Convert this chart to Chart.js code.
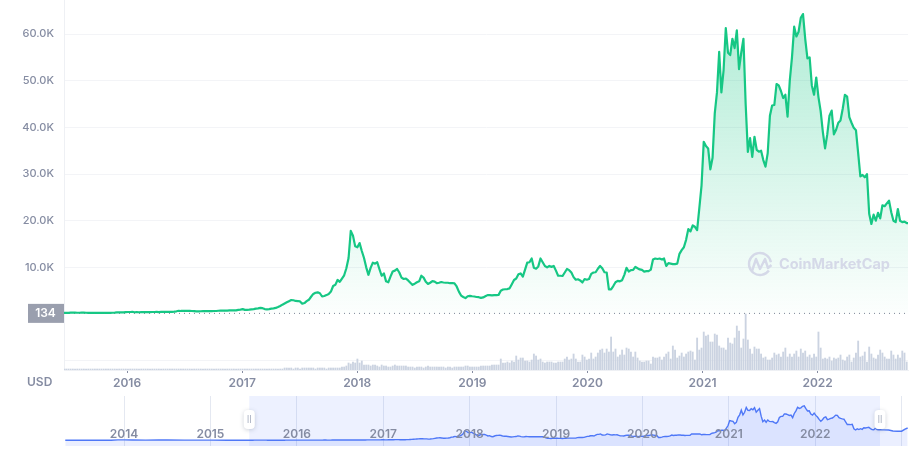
<!DOCTYPE html>
<html>
<head>
<meta charset="utf-8">
<title>Bitcoin price chart</title>
<script src="https://cdn.jsdelivr.net/npm/chart.js@4"></script>
<style>
    body { margin: 0; background: #fff; width: 915px; height: 459px; overflow: hidden; position: relative; }
    canvas { position: absolute; left: 0; }
    #priceChart { top: 0; }
    #navChart { top: 396px; }
</style>
</head>
<body>
<canvas id="priceChart" width="915" height="395"></canvas>
<canvas id="navChart" width="915" height="50"></canvas>
<script>
// Weekly closes in USD
var priceValues = [
    230,240,255,285,290,275,270,265,285,280,
    265,245,230,230,230,235,240,235,230,240,
    250,250,270,290,330,380,360,330,400,430,
    430,440,380,400,370,400,430,420,415,420,
    430,430,450,420,440,460,460,450,450,450,
    500,580,700,650,650,680,660,650,640,600,
    570,580,590,610,600,610,600,620,640,640,
    700,730,750,740,730,760,770,780,790,880,
    950,1050,880,900,920,1000,1050,1150,1200,1300,
    1250,1050,1000,1050,1150,1200,1300,1500,1720,2000,
    2250,2500,2750,2980,2950,2800,2780,2700,2200,2350,
    2750,3050,3700,4300,4550,4650,4450,3750,3850,4050,
    4300,4800,6000,6250,7300,6900,7600,8300,9800,12000,
    17800,16800,14500,14300,15200,13500,12000,10000,8400,9900,
    11000,10800,11100,9600,8200,8700,7000,6800,8000,9100,
    9300,9650,8900,7800,7500,7600,7200,6700,6250,6500,
    6800,7000,8200,7800,6900,6450,6700,7050,6950,6600,
    6700,6850,6750,6700,6700,6600,6650,6550,5900,4800,
    3950,3650,3400,3800,3900,3800,3750,3650,3600,3450,
    3550,3800,4050,4050,4000,4050,4050,4100,5000,5250,
    5300,5350,5500,6400,7300,7600,8500,8700,8000,9500,
    11000,11100,11900,9900,9700,10200,11900,11100,10300,10000,
    10300,10100,10300,9300,8200,8200,8150,8900,9650,9400,
    8900,7900,7350,7450,7200,6750,7500,7350,7500,8600,
    8900,8950,9700,10300,9800,8950,8900,5300,5300,6000,
    6800,7100,7000,7250,8400,9900,9100,9400,9450,10100,
    9800,9550,9450,9100,9200,9200,9500,11700,11900,11800,
    11900,11700,11900,10300,10900,10800,10700,10700,10800,12900,
    13700,14300,15900,18200,17700,19000,18700,18000,22700,27500,
    36900,36000,35500,31000,33500,43000,47500,56200,47500,52300,
    61300,56000,55500,59000,57000,60800,52500,56000,59000,45000,
    34750,37700,33700,38000,35200,34800,35000,33000,31600,34500,
    42500,44700,44800,49300,49000,47800,46300,47000,42300,50000,
    55000,61600,59500,60500,63500,64300,59000,54800,55000,49000,
    47000,50700,46500,43500,39000,35500,38500,42500,43600,38500,
    39500,41000,41500,44000,47000,46600,42200,41000,39900,39400,
    34500,29500,29800,29300,30000,21500,19300,21300,20000,21700,
    20500,23300,23100,23700,24300,21800,20000,19700,22500,20000,
    19700,19800,19500,19500
];

// Weekly volume in billions USD
var volumeValues = [
    6,6,6,6,6,6,6,6,6,6, 6,6,6,6,6,6,6,6,6,6,
    6,6,6,6,6,6,6,6,6,6, 6,6,6,6,6,6,6,6,6,6,
    6,6,6,6,6,6,6,6,6,6, 6,6,6,6,6,6,6,6,6,6,
    6,6,6,6,6,6,6,6,6,6, 6,6,6,6,6,6,6,6,6,6,
    6,6,6,6,6,6,6,6,6,6, 6,6,6,6,6,6,6,6,6,6,
    12,12,12,12,6,12,12,6,12,12,
    12,12,12,12,6,12,12,12,12,6,
    12,12,12,12,12,12,18,18,24,42,
    36,48,42,66,42,54,30,30,30,24,
    30,30,24,18,30,24,24,18,18,24,
    30,24,24,24,24,24,18,18,18,12,
    18,18,18,12,18,24,18,18,18,18,
    18,18,18,12,18,18,12,18,18,18,
    18,18,24,24,18,18,18,18,18,24,
    24,24,24,24,30,30,30,30,66,42,
    42,48,42,54,48,84,60,72,72,54,
    54,48,60,96,84,60,66,48,42,48,
    48,48,42,42,48,48,48,66,78,60,
    66,96,66,48,48,90,78,60,66,102,
    66,78,102,120,126,102,126,108,198,108,
    126,78,90,120,90,132,126,108,78,108,
    72,54,48,48,54,54,36,78,72,72,
    78,60,78,96,108,66,144,120,72,84,
    102,78,96,108,114,108,60,192,120,132,
    228,204,210,168,168,216,210,144,132,132,
    120,192,162,156,192,264,234,132,186,336,
    180,126,96,138,126,126,96,72,78,60,
    60,72,102,90,96,78,108,132,78,96,
    78,96,114,78,126,102,114,78,90,72,
    96,78,228,132,66,72,66,78,54,72,
    66,72,90,60,54,78,90,48,72,102,
    174,78,84,108,48,138,96,72,66,90,
    120,102,78,66,66,114,90,66,90,72,
    114,102,48,0
];

// Navigator only: the part of the history outside the main window
var earlyYears = [2013.32,2013.5,2013.7,2013.85,2013.93,2014.0,2014.1,2014.25,2014.4,2014.5,2014.7,2014.9,2015.0,2015.2,2015.4];
var earlyPrices = [110,90,130,200,800,750,650,450,600,630,380,350,300,240,230];
var lateYears = [2022.85,2022.9,2022.95,2023.0,2023.04,2023.07];
var latePrices = [19300,17500,17000,17000,21000,23000];

var priceTicks = [-10000,10000,20000,30000,40000,50000,60000];
var yearTicks = [2016,2017,2018,2019,2020,2021,2022];
var navYearTicks = [2014,2015,2016,2017,2018,2019,2020,2021,2022,2023];
var navYearLabels = [2014,2015,2016,2017,2018,2019,2020,2021,2022];
var lastPrice = 134;
var startYear = 2015.4526;
var endYear = 2022.785;
var selectStart = 2015.45;
var selectEnd = 2022.75;

var weekYears = priceValues.map(function (v, i) { return startYear + i * 7 / 365.25; });

function pairs(xs, ys) {
    return xs.map(function (x, i) { return { x: x, y: ys[i] }; });
}

var labelColor = '#858ca2';
var gridColor = '#f3f4f7';
var font = 'Inter';

// Price tag, USD label and watermark
var priceDecor = {
    id: 'priceDecor',
    afterDraw: function (chart) {
        var c = chart.ctx;
        var y = chart.scales.y.getPixelForValue(lastPrice);
        c.save();
        c.fillStyle = '#9a9fae';
        c.fillRect(28, y - 9.5, 36, 19);
        c.fillStyle = '#fff';
        c.font = '600 12px ' + font;
        c.textAlign = 'center';
        c.textBaseline = 'middle';
        c.fillText(String(lastPrice), 45.5, y);
        c.fillStyle = labelColor;
        c.textAlign = 'left';
        c.fillText('USD', 27, 382.5);

        // watermark
        c.strokeStyle = '#d5d9e8';
        c.fillStyle = '#d5d9e8';
        c.lineWidth = 2.4;
        c.lineJoin = 'round';
        c.beginPath();
        c.arc(760, 264, 11, Math.PI * 0.2, Math.PI * 1.95);
        c.stroke();
        c.beginPath();
        c.moveTo(752, 271);
        c.lineTo(756, 259);
        c.lineTo(760, 269);
        c.lineTo(765, 259);
        c.lineTo(768, 268);
        c.lineTo(771.5, 265);
        c.stroke();
        c.font = '700 14.5px ' + font;
        c.fillText('CoinMarketCap', 779, 264.5);
        c.restore();
    }
};

var navDecor = {
    id: 'navDecor',
    beforeDatasetsDraw: function (chart) {
        var a = chart.chartArea;
        var x0 = chart.scales.x.getPixelForValue(selectStart);
        var x1 = chart.scales.x.getPixelForValue(selectEnd);
        chart.ctx.fillStyle = 'rgba(56, 97, 251, 0.09)';
        chart.ctx.fillRect(x0, a.top, x1 - x0, a.bottom - a.top);
    },
    afterDraw: function (chart) {
        var c = chart.ctx;
        // year labels sit inside the plot, over the line
        c.save();
        c.fillStyle = labelColor;
        c.font = '600 12px ' + font;
        c.textAlign = 'center';
        c.textBaseline = 'middle';
        navYearLabels.forEach(function (yr) {
            c.fillText(String(yr), chart.scales.x.getPixelForValue(yr), 38);
        });
        c.restore();
        [selectStart, selectEnd].forEach(function (yr) {
            var x = chart.scales.x.getPixelForValue(yr);
            c.save();
            c.shadowColor = 'rgba(88, 102, 126, 0.3)';
            c.shadowBlur = 4;
            c.shadowOffsetY = 1;
            c.fillStyle = '#fff';
            c.beginPath();
            c.roundRect(x - 5.5, 14, 11, 19, 4);
            c.fill();
            c.restore();
            c.fillStyle = '#b4bac9';
            c.fillRect(x - 1.7, 19, 1, 8);
            c.fillRect(x + 0.7, 19, 1, 8);
        });
    }
};

new Chart(document.getElementById('priceChart').getContext('2d'), {
    data: {
        datasets: [{
            type: 'line',
            data: pairs(weekYears, priceValues),
            yAxisID: 'y',
            borderColor: '#16c784',
            borderWidth: 2.2,
            borderJoinStyle: 'round',
            pointRadius: 0,
            tension: 0,
            order: 0,
            fill: { value: lastPrice },
            backgroundColor: function (ctx) {
                var area = ctx.chart.chartArea;
                if (!area) { return 'transparent'; }
                var g = ctx.chart.ctx.createLinearGradient(0, 10, 0, 314);
                g.addColorStop(0, 'rgba(22, 199, 132, 0.34)');
                g.addColorStop(1, 'rgba(22, 199, 132, 0.01)');
                return g;
            }
        }, {
            type: 'line',
            data: [{ x: startYear, y: lastPrice }, { x: endYear, y: lastPrice }],
            yAxisID: 'y',
            borderColor: '#7d8496',
            borderWidth: 1,
            borderDash: [1, 4],
            pointRadius: 0,
            order: 1,
            fill: false
        }, {
            type: 'bar',
            data: pairs(weekYears, volumeValues),
            yAxisID: 'volume',
            backgroundColor: '#cbd3e1',
            barThickness: 1.2,
            order: 2
        }]
    },
    options: {
        responsive: false,
        animation: false,
        layout: { autoPadding: false, padding: { top: 0, right: 7, bottom: 0, left: 0 } },
        plugins: { legend: { display: false }, tooltip: { enabled: false } },
        scales: {
            x: {
                type: 'linear',
                offset: false,
                min: startYear,
                max: endYear,
                afterBuildTicks: function (scale) {
                    scale.ticks = yearTicks.map(function (v) { return { value: v }; });
                },
                afterFit: function (scale) { scale.height = 25; },
                grid: { offset: false, drawOnChartArea: false, drawTicks: true, tickLength: 3, tickColor: labelColor },
                border: { color: '#eef0f4' },
                ticks: {
                    autoSkip: false,
                    maxRotation: 0,
                    padding: 3,
                    color: labelColor,
                    font: { family: font, size: 12, weight: '600' },
                    callback: function (v) { return String(v); }
                }
            },
            y: {
                position: 'left',
                min: -12004,
                max: 67310,
                afterBuildTicks: function (scale) {
                    scale.ticks = priceTicks.map(function (v) { return { value: v }; });
                },
                afterFit: function (scale) {
                    // tick padding would otherwise push the plot down from the top
                    scale.width = 64;
                    scale.paddingTop = 0;
                    scale.paddingBottom = 0;
                },
                grid: { color: gridColor, drawTicks: false },
                border: { color: '#eef0f4' },
                ticks: {
                    autoSkip: false,
                    padding: 10,
                    color: labelColor,
                    font: { family: font, size: 11, weight: '500' },
                    callback: function (v) { return v < 0 ? '' : (v / 1000).toFixed(1) + 'K'; }
                }
            },
            volume: {
                display: false,
                min: 0,
                max: 2220
            }
        }
    },
    plugins: [priceDecor]
});

new Chart(document.getElementById('navChart').getContext('2d'), {
    type: 'line',
    data: {
        datasets: [{
            data: pairs(earlyYears.concat(weekYears, lateYears), earlyPrices.concat(priceValues, latePrices)),
            borderColor: '#4f78f7',
            borderWidth: 1.4,
            pointRadius: 0,
            tension: 0,
            fill: 'start',
            backgroundColor: 'rgba(56, 97, 251, 0.1)'
        }]
    },
    options: {
        responsive: false,
        animation: false,
        layout: { autoPadding: false, padding: { top: 0, right: 7, bottom: 0, left: 65 } },
        plugins: { legend: { display: false }, tooltip: { enabled: false } },
        scales: {
            x: {
                type: 'linear',
                min: 2013.317,
                max: 2023.074,
                afterBuildTicks: function (scale) {
                    scale.ticks = navYearTicks.map(function (v) { return { value: v }; });
                },
                afterFit: function (scale) { scale.height = 0; },
                grid: { color: '#e4e8f1', drawTicks: false },
                border: { display: false },
                ticks: { display: false, autoSkip: false }
            },
            y: { display: false, min: -10600, max: 82650 }
        }
    },
    plugins: [navDecor]
});
</script>
</body>
</html>
